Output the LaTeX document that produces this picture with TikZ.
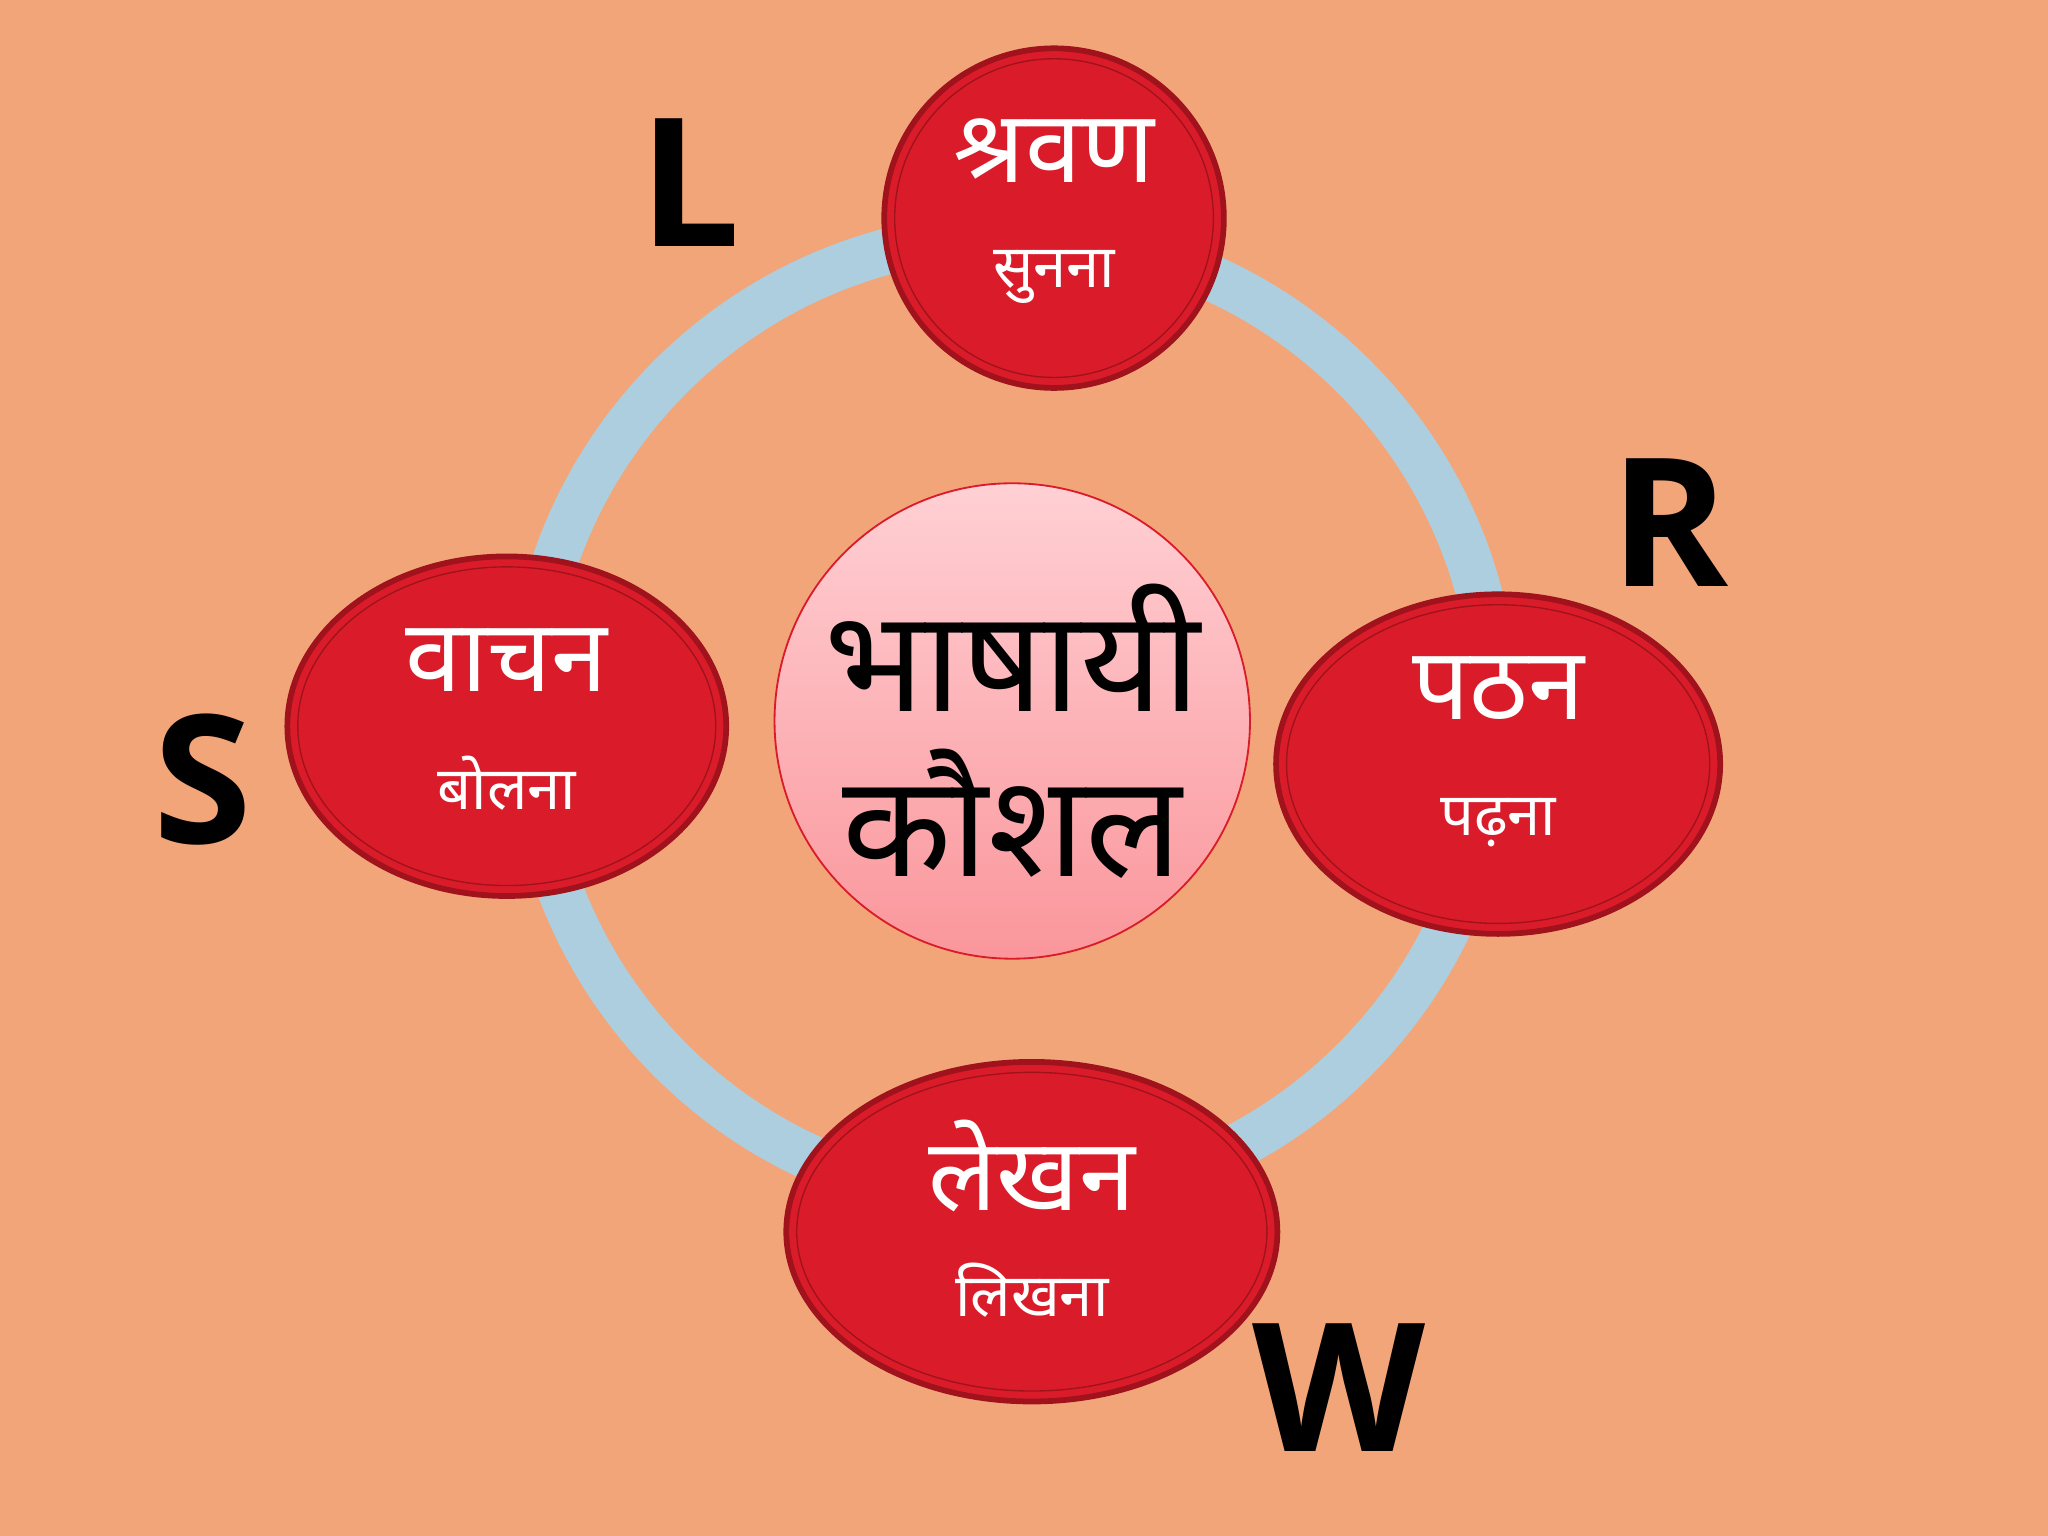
\documentclass[tikz,border=0pt]{standalone}
\usepackage{fontspec}
\newfontfamily\dev[Script=Devanagari]{Noto Sans}
\newfontfamily\lat{Open Sans}
\definecolor{bg}{RGB}{243,165,122}
\definecolor{ring}{RGB}{172,206,222}
\definecolor{rd}{RGB}{218,28,42}
\definecolor{rdb}{RGB}{160,18,28}
\definecolor{pk1}{RGB}{255,208,212}
\definecolor{pk2}{RGB}{250,150,155}
\begin{document}
\begin{tikzpicture}[x=0.02cm,y=-0.02cm,
  skill/.style={draw=rdb,line width=2.5pt,fill=rd},
  inner/.style={draw=rdb,line width=0.6pt},
  big/.style={text=white,font=\dev\bfseries\fontsize{44}{48}\selectfont},
  small/.style={text=white,font=\dev\fontsize{26}{30}\selectfont},
  letter/.style={font=\lat\bfseries\fontsize{78}{80}\selectfont}]
\fill[bg] (0,0) rectangle (1568,1176);
\useasboundingbox (0,0) rectangle (1568,1176);
\draw[ring,line width=20pt] (775,550) circle (370);
% center
\shade[top color=pk1,bottom color=pk2,draw=rd,line width=0.8pt] (775,552) circle (182);
\node (c) at (775,560) [align=center,font=\dev\bfseries\fontsize{62}{72}\selectfont] {भाषायी\\कौशल};
% top
\draw[skill] (807,167) circle [x radius=130,y radius=130];
\draw[inner] (807,167) circle [x radius=122,y radius=122];
\node[big] (t1) at (807,115) {श्रवण};
\node[small] (t2) at (807,212) {सुनना};
% left
\draw[skill] (388,556) circle [x radius=168,y radius=130];
\draw[inner] (388,556) circle [x radius=160,y radius=122];
\node[big] (l1) at (388,505) {वाचन};
\node[small] (l2) at (388,600) {बोलना};
% right
\draw[skill] (1147,585) circle [x radius=170,y radius=130];
\draw[inner] (1147,585) circle [x radius=162,y radius=122];
\node[big] (r1) at (1147,527) {पठन};
\node[small] (r2) at (1147,630) {पढ़ना};
% bottom
\draw[skill] (790,943) circle [x radius=188,y radius=130];
\draw[inner] (790,943) circle [x radius=180,y radius=122];
\node[big] (b1) at (790,893) {लेखन};
\node[small] (b2) at (790,988) {लिखना};
\node[letter] (L) at (528,140) {L};
\node[letter] (S) at (155,597) {S};
\node[letter] (R) at (1278,400) {R};
\node[letter] (W) at (1025,1062) {W};
\end{tikzpicture}
\end{document}
